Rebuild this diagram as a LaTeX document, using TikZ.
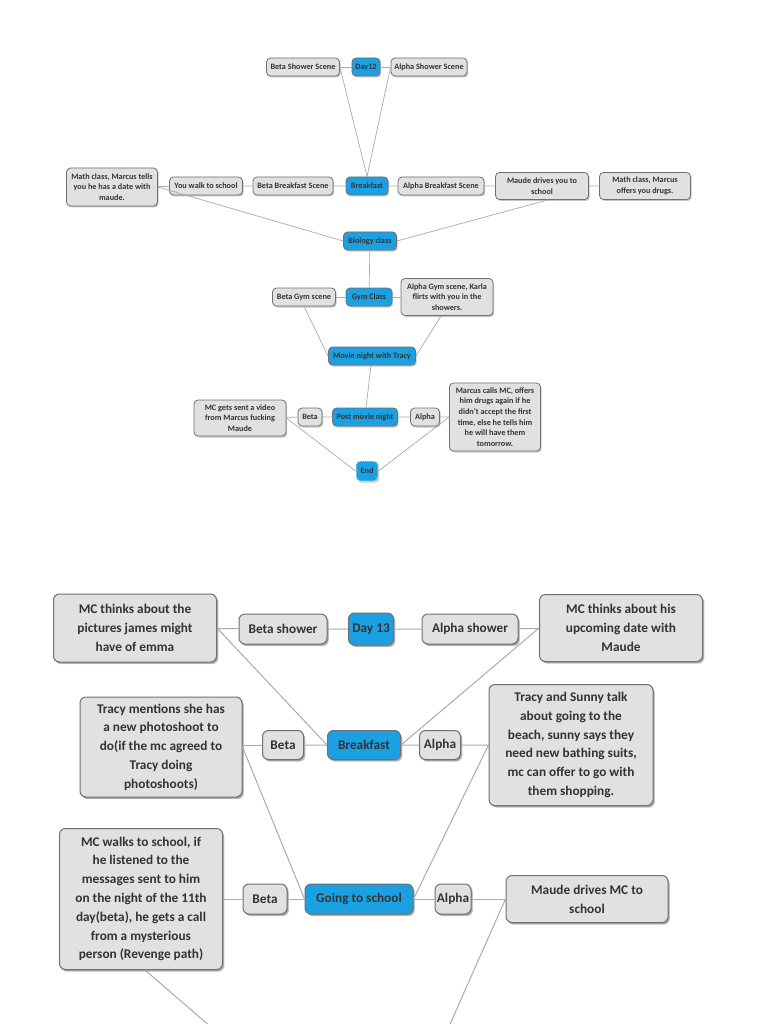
\documentclass[tikz,border=0pt]{standalone}
\usepackage{fontspec}
\setmainfont{Carlito}
\usetikzlibrary{shadows}
\definecolor{nodeblue}{HTML}{1BA1E2}
\definecolor{boxgray}{HTML}{E1E1E1}
\definecolor{edgegray}{HTML}{707070}
\definecolor{linkgray}{HTML}{ABABAB}
\definecolor{txt}{HTML}{333333}
\tikzset{
 base/.style={rounded corners=4pt, draw=edgegray, line width=0.8pt, align=center, inner sep=1pt, text=txt,
   drop shadow={opacity=0.45, shadow xshift=1.2pt, shadow yshift=-1.5pt}},
 sm/.style={base, font=\fontsize{8.2}{10.6}\selectfont\bfseries},
 lg/.style={base, rounded corners=6pt, line width=1pt, drop shadow={opacity=0.45, shadow xshift=1.8pt, shadow yshift=-2.2pt}, font=\fontsize{13.3}{18.8}\selectfont\bfseries},
 gb/.style={fill=boxgray},
 bb/.style={fill=nodeblue},
 link/.style={draw=linkgray, line width=0.7pt},
 linkb/.style={draw=linkgray, line width=1pt},
 sz/.style 2 args={minimum width=#1pt, minimum height=#2pt},
}
\begin{document}
\begin{tikzpicture}[x=1pt,y=-1pt]
\fill[white] (0,0) rectangle (768,1024);
\clip (0,0) rectangle (768,1024);
% ---------- Day 12 ----------
\node[sm,bb,sz={28}{18}] (d12) at (366,67) {Day12};
\node[sm,gb,sz={73}{18}] (bss) at (303,67) {Beta Shower Scene};
\node[sm,gb,sz={76}{18}] (ass) at (429,67) {Alpha Shower Scene};
\node[sm,bb,sz={42}{18}] (bk12) at (367,186) {Breakfast};
\node[sm,gb,sz={80}{18}] (bbs) at (293,186) {Beta Breakfast Scene};
\node[sm,gb,sz={73}{18}] (yws) at (206,186) {You walk to school};
\node[sm,gb,sz={91}{38}] (mct) at (112,187) {Math class, Marcus tells\\you he has a date with\\maude.};
\node[sm,gb,sz={86}{18}] (abs) at (441,186) {Alpha Breakfast Scene};
\node[sm,gb,sz={93}{27}] (mdy) at (542,186) {Maude drives you to\\school};
\node[sm,gb,sz={91}{27}] (mco) at (645,186) {Math class, Marcus\\offers you drugs.};
\node[sm,bb,sz={53}{18}] (bio) at (370,241) {Biology class};
\node[sm,bb,sz={46}{18}] (gym) at (369,297) {Gym Class};
\node[sm,gb,sz={63}{18}] (bgs) at (304,297) {Beta Gym scene};
\node[sm,gb,sz={92}{37}] (ags) at (447,297) {Alpha Gym scene, Karla\\flirts with you in the\\showers.};
\node[sm,bb,sz={87}{18}] (mnt) at (372,356) {Movie night with Tracy};
\node[sm,bb,sz={65}{18}] (pmn) at (365,417) {Post movie night};
\node[sm,gb,sz={24}{18}] (b1) at (310,417) {Beta};
\node[sm,gb,sz={92}{36}] (mcv) at (240,418) {MC gets sent a video\\from Marcus fucking\\Maude};
\node[sm,gb,sz={29}{18}] (a1) at (425,417) {Alpha};
\node[sm,gb,sz={91}{68}] (mcc) at (495,417) {Marcus calls MC, offers\\him drugs again if he\\didn't accept the first\\time, else he tells him\\he will have them\\tomorrow.};
\node[sm,bb,sz={22}{20},draw=white,densely dotted,line width=1pt] (end) at (367,471) {End};
\draw[link] (bss) -- (d12) -- (ass);
\draw[link] (bss.east) -- (bk12.north);
\draw[link] (ass.west) -- (bk12.north);
\draw[link] (mct) -- (yws) -- (bbs) -- (bk12) -- (abs) -- (mdy) -- (mco);
\draw[link] (mct.east) -- (bio.west);
\draw[link] ([xshift=6pt]mdy.south) -- (bio.east);
\draw[link] (bio) -- (gym);
\draw[link] (bgs) -- (gym) -- (ags);
\draw[link] (bgs.south) -- (mnt.west);
\draw[link] ([xshift=-6pt]ags.south) -- (mnt.east);
\draw[link] (mnt) -- (pmn);
\draw[link] (mcv) -- (b1) -- (pmn) -- (a1) -- (mcc);
\draw[link] (mcv.east) -- (end.west);
\draw[link] (mcc.west) -- (end.east);
% ---------- Day 13 ----------
\node[lg,bb,sz={45}{32}] (d13) at (371,629) {Day 13};
\node[lg,gb,sz={88}{30}] (bsh) at (283,629) {Beta shower};
\node[lg,gb,sz={96}{30}] (ash) at (470,629) {Alpha shower};
\node[lg,gb,sz={163}{68}] (mcp) at (135,628) {MC thinks about the\\pictures james might\\have of emma};
\node[lg,gb,sz={163}{67}] (mcd) at (621,628) {MC thinks about his\\upcoming date with\\Maude};
\node[lg,bb,sz={73}{29}] (bk13) at (364,745) {Breakfast};
\node[lg,gb,sz={41}{29}] (b2) at (283,745) {Beta};
\node[lg,gb,sz={162}{100}] (trm) at (161,747) {Tracy mentions she has\\a new photoshoot to\\do(if the mc agreed to\\Tracy doing\\photoshoots)};
\node[lg,gb,sz={41}{29}] (a2) at (440,745) {Alpha};
\node[lg,gb,sz={164}{121}] (tsy) at (571,745) {Tracy and Sunny talk\\about going to the\\beach, sunny says they\\need new bathing suits,\\mc can offer to go with\\them shopping.};
\node[lg,bb,sz={108}{30}] (gts) at (359,899) {Going to school};
\node[lg,gb,sz={44}{30}] (b3) at (265,899) {Beta};
\node[lg,gb,sz={163}{141}] (mcw) at (141,899) {MC walks to school, if\\he listened to the\\messages sent to him\\on the night of the 11th\\day(beta), he gets a call\\from a mysterious\\person (Revenge path)};
\node[lg,gb,sz={36}{30}] (a3) at (453,899) {Alpha};
\node[lg,gb,sz={162}{47}] (mdm) at (587,899) {Maude drives MC to\\school};
\coordinate (offL) at (226,1040);
\coordinate (offR) at (443,1040);
\draw[linkb] (mcp) -- (bsh) -- (d13) -- (ash) -- (mcd);
\draw[linkb] (mcp.east) -- (bk13.west);
\draw[linkb] (mcd.west) -- (bk13.east);
\draw[linkb] (trm) -- (b2) -- (bk13) -- (a2) -- (tsy);
\draw[linkb] (trm.east) -- (gts.west);
\draw[linkb] (tsy.west) -- (gts.east);
\draw[linkb] (mcw) -- (b3) -- (gts) -- (a3) -- (mdm);
\draw[linkb] ([xshift=4pt]mcw.south) -- (offL);
\draw[linkb] (mdm.west) -- (offR);
\end{tikzpicture}
\end{document}
